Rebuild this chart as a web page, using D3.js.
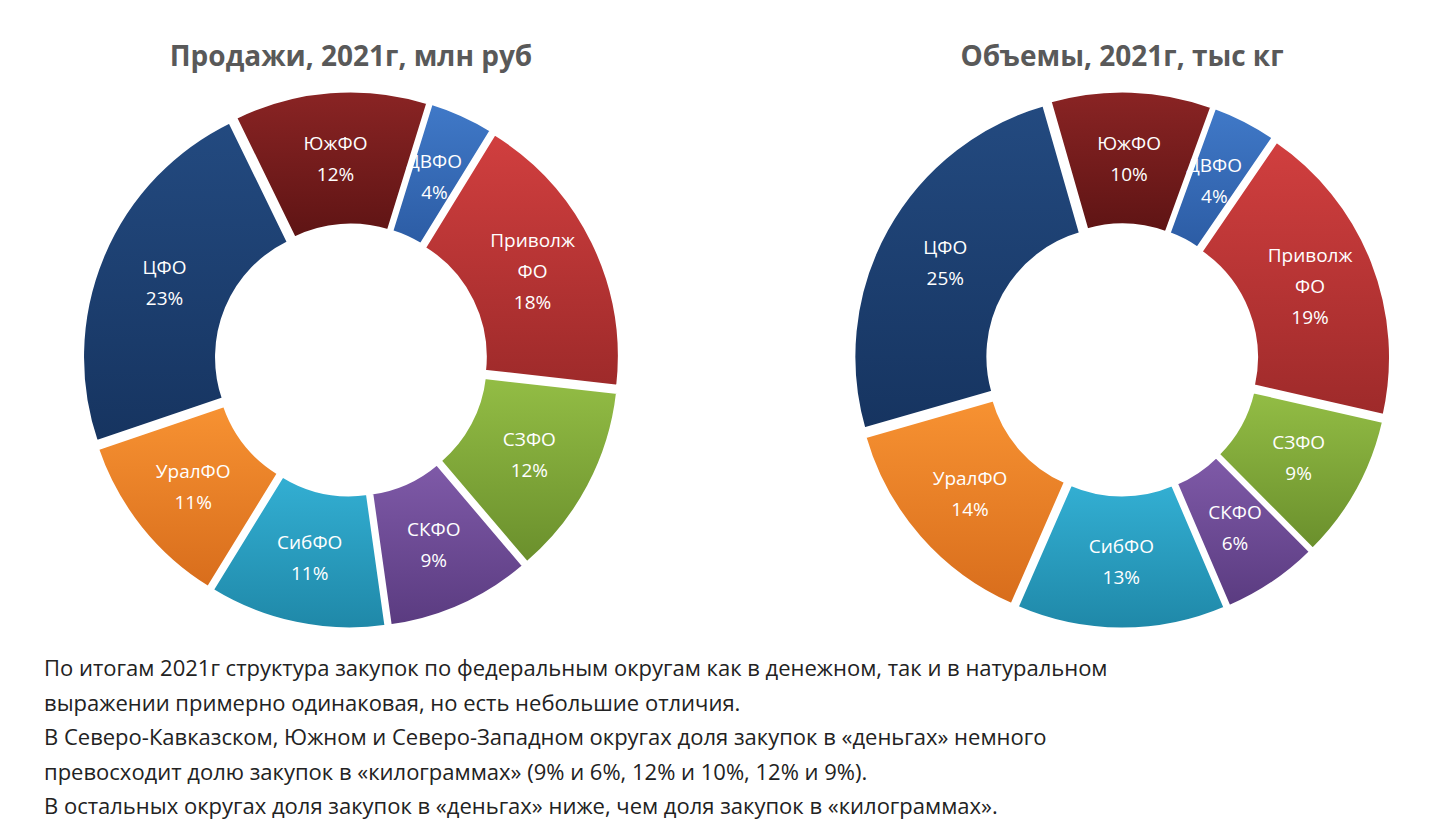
<!DOCTYPE html><html><head><meta charset="utf-8">
<script src="https://cdn.jsdelivr.net/npm/d3@7"></script>
<style>body{margin:0;background:#fff}</style></head><body>
<svg id="c" width="1456" height="826"></svg>
<script>
const regions = ["ЮжФО","ДВФО","Приволж\nФО","СЗФО","СКФО","СибФО","УралФО","ЦФО"];
const sales = [12,4,18,12,9,11,11,23];
const volumes = [10,4,19,9,6,13,14,25];
const colors = ["#8a2424","#4079c8","#d13f3f","#93bd45","#7f5aa8","#33afd3","#f79232","#234a80"];
const darks  = ["#5e1414","#2c5ca4","#9e2a2a","#6a8f2c","#5a3b80","#1f88a8","#d86d1c","#163460"];
const titles = ["Продажи, 2021г, млн руб","Объемы, 2021г, тыс кг"];
const notes = ["По итогам 2021г структура закупок по федеральным округам как в денежном, так и в натуральном",
"выражении примерно одинаковая, но есть небольшие отличия.",
"В Северо-Кавказском, Южном и Северо-Западном округах доля закупок в «деньгах» немного",
"превосходит долю закупок в «килограммах» (9% и 6%, 12% и 10%, 12% и 9%).",
"В остальных округах доля закупок в «деньгах» ниже, чем доля закупок в «килограммах»."];
const svg = d3.select("#c");
const defs = svg.append("defs");
colors.forEach((c,i)=>{
  const g = defs.append("linearGradient").attr("id","g"+i).attr("x1",0).attr("y1",0).attr("x2",0).attr("y2",1);
  g.append("stop").attr("offset","0%").attr("stop-color",c);
  g.append("stop").attr("offset","100%").attr("stop-color",darks[i]);
});
const charts = [{data:sales,cx:351,cy:360,start:-26},{data:volumes,cx:1122,cy:360,start:-16}];
charts.forEach((ch,k)=>{
  svg.append("text").attr("x",ch.cx).attr("y",66).attr("text-anchor","middle")
    .attr("font-family","Open Sans, sans-serif").attr("font-weight","bold").attr("font-size",28).attr("fill","#595959").text(titles[k]);
  const s = ch.start*Math.PI/180;
  const pie = d3.pie().sort(null).startAngle(s).endAngle(s+2*Math.PI)(ch.data);
  const arc = d3.arc().innerRadius(128).outerRadius(262);
  const lab = d3.arc().innerRadius(195).outerRadius(195);
  const g = svg.append("g").attr("transform",`translate(${ch.cx},${ch.cy})`);
  pie.forEach((p,i)=>{
    const m=(p.startAngle+p.endAngle)/2, off=7;
    const dx=Math.sin(m)*off, dy=-Math.cos(m)*off;
    const sg=g.append("g").attr("transform",`translate(${dx},${dy})`);
    sg.append("path").attr("d",arc(p)).attr("fill",`url(#g${i})`).attr("stroke","#fff").attr("stroke-width",3);
    const [lx,ly]=lab.centroid(p);
    const lines=regions[i].split("\n").concat([ch.data[i]+"%"]);
    const t=sg.append("text").attr("text-anchor","middle").attr("font-family","Open Sans, sans-serif")
      .attr("font-size",19).attr("fill","#fff");
    lines.forEach((l,j)=>t.append("tspan").attr("x",lx).attr("y",ly+(j-(lines.length-1)/2)*31+7).text(l));
  });
});
const tn = svg.append("text").attr("font-family","Open Sans, sans-serif").attr("font-size",22).attr("fill","#222");
notes.forEach((n,i)=>tn.append("tspan").attr("x",44).attr("y",676+i*34.5).text(n));
</script></body></html>
